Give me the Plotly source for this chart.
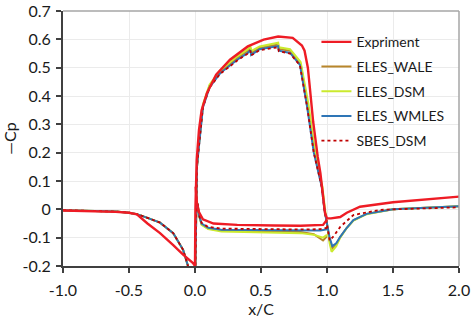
import plotly.graph_objects as go

# ---------------- data ----------------
# Experiment: upstream -> leading edge -> suction side -> trailing edge -> wake
exp_x = [-1.0, -0.8, -0.6, -0.5, -0.44, -0.36, -0.265, -0.165, -0.09, -0.015, 0.0,
         0.003, 0.008, 0.013, 0.03, 0.05, 0.09, 0.16, 0.265, 0.4, 0.52, 0.63, 0.74,
         0.81, 0.83, 0.855, 0.87, 0.895, 0.93, 0.95, 0.985, 1.0, 1.03, 1.1, 1.15,
         1.25, 1.5, 1.76, 2.0]
exp_y = [-0.004, -0.006, -0.009, -0.012, -0.018, -0.05, -0.084, -0.126, -0.16, -0.19, -0.2,
         0.0, 0.1, 0.175, 0.28, 0.35, 0.41, 0.475, 0.528, 0.575, 0.599, 0.61, 0.605,
         0.578, 0.56, 0.5, 0.43, 0.31, 0.185, 0.128, -0.013, -0.032, -0.032, -0.027, -0.012,
         0.009, 0.025, 0.036, 0.045]
# Experiment pressure side
exp_px = [0.005, 0.015, 0.03, 0.06, 0.14, 0.32, 0.6, 0.8, 0.97, 1.0]
exp_py = [0.08, 0.02, -0.01, -0.035, -0.05, -0.055, -0.057, -0.058, -0.055, -0.037]

# ELES_WMLES
wm_x = [-1.0, -0.8, -0.6, -0.5, -0.44, -0.36, -0.265, -0.165, -0.09, -0.053, -0.03, 0.0,
        0.008, 0.015, 0.025, 0.06, 0.11, 0.19, 0.32, 0.4, 0.42, 0.425, 0.49, 0.63, 0.635,
        0.72, 0.795, 0.825, 0.85, 0.9, 0.96, 0.98, 1.0, 1.02, 1.04, 1.07, 1.1, 1.15, 1.2,
        1.3, 1.5, 1.76, 2.0]
wm_y = [-0.003, -0.005, -0.008, -0.012, -0.017, -0.03, -0.047, -0.084, -0.143, -0.2, -0.26, -0.3,
        0.0, 0.15, 0.2, 0.36, 0.43, 0.48, 0.528, 0.552, 0.562, 0.545, 0.565, 0.576, 0.56,
        0.552, 0.51, 0.43, 0.36, 0.2, 0.08, 0.0, -0.05, -0.1, -0.13, -0.12, -0.097, -0.065, -0.038,
        -0.016, 0.0, 0.005, 0.011]
wm_px = [0.02, 0.03, 0.05, 0.1, 0.2, 0.5, 0.8, 0.95, 1.0]
wm_py = [0.02, -0.02, -0.05, -0.065, -0.072, -0.074, -0.075, -0.075, -0.07]

# SBES_DSM
sb_x = [-1.0, -0.8, -0.6, -0.5, -0.44, -0.36, -0.265, -0.165, -0.09, -0.053, -0.03, 0.0,
        0.008, 0.015, 0.025, 0.06, 0.11, 0.19, 0.32, 0.4, 0.42, 0.425, 0.49, 0.63, 0.635,
        0.72, 0.795, 0.825, 0.85, 0.9, 0.96, 0.98, 1.0, 1.02, 1.05, 1.1, 1.2, 1.3, 1.4,
        1.5, 1.76, 2.0]
sb_y = [-0.003, -0.005, -0.008, -0.012, -0.017, -0.03, -0.047, -0.084, -0.143, -0.2, -0.26, -0.3,
        0.0, 0.15, 0.2, 0.36, 0.43, 0.478, 0.525, 0.55, 0.56, 0.543, 0.562, 0.572, 0.558,
        0.55, 0.508, 0.43, 0.36, 0.2, 0.08, 0.0, -0.05, -0.11, -0.095, -0.062, -0.02, -0.01, -0.002,
        0.0, 0.004, 0.007]
sb_px = [0.02, 0.03, 0.05, 0.1, 0.2, 0.5, 0.8, 0.95, 1.0]
sb_py = [0.02, -0.02, -0.048, -0.062, -0.068, -0.07, -0.071, -0.07, -0.065]

# ELES_DSM
ds_x = [-1.0, -0.8, -0.6, -0.5, -0.44, -0.36, -0.265, -0.165, -0.09, -0.053, -0.03, 0.0,
        0.008, 0.015, 0.025, 0.06, 0.11, 0.19, 0.32, 0.4, 0.42, 0.425, 0.49, 0.63, 0.635,
        0.72, 0.8, 0.835, 0.86, 0.91, 0.965, 0.985, 1.0, 1.02, 1.035, 1.07, 1.1, 1.15, 1.2,
        1.3, 1.5, 1.76, 2.0]
ds_y = [-0.003, -0.005, -0.008, -0.012, -0.017, -0.03, -0.047, -0.084, -0.143, -0.2, -0.26, -0.3,
        0.0, 0.15, 0.21, 0.37, 0.44, 0.49, 0.54, 0.565, 0.575, 0.558, 0.575, 0.588, 0.572,
        0.565, 0.52, 0.44, 0.37, 0.2, 0.08, 0.0, -0.06, -0.12, -0.15, -0.13, -0.1, -0.066, -0.04,
        -0.017, 0.0, 0.005, 0.011]
ds_px = [0.02, 0.03, 0.05, 0.1, 0.2, 0.5, 0.8, 0.9, 0.97, 1.0]
ds_py = [0.02, -0.02, -0.055, -0.07, -0.078, -0.08, -0.084, -0.09, -0.1, -0.09]

# ELES_WALE
wa_x = [-1.0, -0.8, -0.6, -0.5, -0.44, -0.36, -0.265, -0.165, -0.09, -0.053, -0.03, 0.0,
        0.008, 0.015, 0.025, 0.06, 0.11, 0.19, 0.32, 0.4, 0.42, 0.425, 0.49, 0.63, 0.635,
        0.72, 0.8, 0.83, 0.855, 0.905, 0.962, 0.982, 1.0, 1.02, 1.035, 1.07, 1.1, 1.15, 1.2,
        1.3, 1.5, 1.76, 2.0]
wa_y = [-0.003, -0.005, -0.008, -0.012, -0.017, -0.03, -0.047, -0.084, -0.143, -0.2, -0.26, -0.3,
        0.0, 0.15, 0.205, 0.365, 0.435, 0.485, 0.535, 0.56, 0.57, 0.552, 0.57, 0.582, 0.566,
        0.56, 0.515, 0.435, 0.365, 0.2, 0.08, 0.0, -0.055, -0.11, -0.14, -0.125, -0.098, -0.065, -0.039,
        -0.016, 0.0, 0.005, 0.011]
wa_px = [0.02, 0.03, 0.05, 0.1, 0.2, 0.5, 0.8, 0.9, 0.97, 1.0]
wa_py = [0.02, -0.02, -0.053, -0.068, -0.075, -0.078, -0.08, -0.088, -0.11, -0.095]

series_names = ["Expriment", "ELES_WALE", "ELES_DSM", "ELES_WMLES", "SBES_DSM"]
y_ticks = [0.7, 0.6, 0.5, 0.4, 0.3, 0.2, 0.1, 0, -0.1, -0.2]
y_tick_text = ["0.7", "0.6", "0.5", "0.4", "0.3", "0.2", "0.1", "0", "-0.1", "-0.2"]
x_ticks = [-1.0, -0.5, 0.0, 0.5, 1.0, 1.5, 2.0]
x_tick_text = ["-1.0", "-0.5", "0.0", "0.5", "1.0", "1.5", "2.0"]

# ---------------- figure ----------------
def join(a, b):
    return list(a) + [None] + list(b)

styles = {
    "Expriment": dict(color="#EE1C25", width=2.4, dash="solid"),
    "ELES_WALE": dict(color="#B8862B", width=2, dash="solid"),
    "ELES_DSM": dict(color="#CBEA2E", width=2, dash="solid"),
    "ELES_WMLES": dict(color="#2E75B6", width=2, dash="solid"),
    "SBES_DSM": dict(color="#C00000", width=1.8, dash="dot"),
}
data = {
    "Expriment": (join(exp_x, exp_px), join(exp_y, exp_py)),
    "ELES_WALE": (join(wa_x, wa_px), join(wa_y, wa_py)),
    "ELES_DSM": (join(ds_x, ds_px), join(ds_y, ds_py)),
    "ELES_WMLES": (join(wm_x, wm_px), join(wm_y, wm_py)),
    "SBES_DSM": (join(sb_x, sb_px), join(sb_y, sb_py)),
}
draw_order = ["ELES_WALE", "ELES_DSM", "ELES_WMLES", "SBES_DSM", "Expriment"]
legend_rank = {n: i for i, n in enumerate(series_names)}

fig = go.Figure()
for name in draw_order:
    xs, ys = data[name]
    fig.add_trace(go.Scatter(
        x=xs, y=ys, mode="lines", name=name, line=styles[name],
        legendrank=legend_rank[name] + 1, legendgroup=name,
        connectgaps=False,
    ))

font_family = "Lato, 'Open Sans', sans-serif"
fig.update_layout(
    width=474, height=322,
    margin=dict(l=63, r=15, t=11, b=56, autoexpand=False),
    paper_bgcolor="white", plot_bgcolor="white",
    font=dict(family=font_family, size=16, color="#1a1a1a"),
    showlegend=True,
    legend=dict(
        x=0.64, y=0.94, xanchor="left", yanchor="top",
        bgcolor="rgba(255,255,255,0)", borderwidth=0,
        font=dict(size=14, color="#1a1a1a"),
        itemwidth=30, tracegroupgap=3.5, traceorder="grouped",
    ),
    xaxis=dict(
        range=[-1.0, 2.0], tickvals=x_ticks, ticktext=x_tick_text,
        showgrid=True, gridcolor="#EBEBEB", gridwidth=1, zeroline=False,
        showline=True, linecolor="#404040", linewidth=2,
        ticks="outside", ticklen=5, tickcolor="#404040", tickwidth=1.5,
        ticklabelstandoff=4, automargin=False,
        title=dict(text="x/C", font=dict(size=16), standoff=6),
    ),
    yaxis=dict(
        range=[-0.2, 0.7], tickvals=y_ticks, ticktext=y_tick_text,
        showgrid=True, gridcolor="#EBEBEB", gridwidth=1, zeroline=False,
        showline=True, linecolor="#404040", linewidth=2,
        ticks="outside", ticklen=5, tickcolor="#404040", tickwidth=1.5,
        ticklabelstandoff=2, automargin=False,
        title=dict(text="\u2014Cp", font=dict(size=16), standoff=4),
    ),
    shapes=[
        dict(type="line", xref="paper", yref="paper", x0=0, x1=1, y0=1, y1=1,
             line=dict(color="#A6A6A6", width=1.5)),
        dict(type="line", xref="paper", yref="paper", x0=1, x1=1, y0=0, y1=1,
             line=dict(color="#A6A6A6", width=1.5)),
    ],
)

fig.write_html("out.html")
